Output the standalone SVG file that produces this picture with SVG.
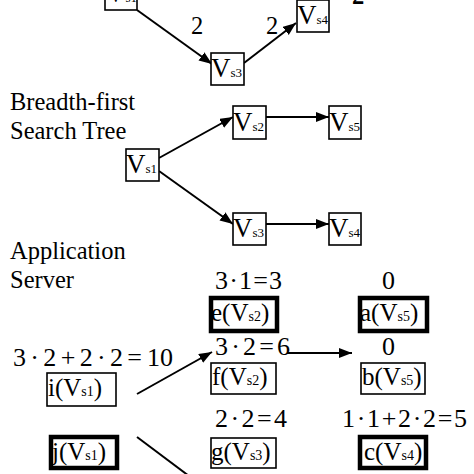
<svg xmlns="http://www.w3.org/2000/svg" width="474" height="474" viewBox="0 0 474 474">
<style>
text{font-family:"Liberation Serif","Times New Roman",serif;fill:#000}
.lbl{font-size:24.5px}
.eq{font-size:26px}
.v{font-size:27px}
.vs{font-size:13px}
.bl{font-size:25px}
.bs{font-size:14px}
.box{fill:#fff;stroke:#000;stroke-width:1.6}
.thick{fill:#fff;stroke:#000;stroke-width:4.5}
.edge{stroke:#000;stroke-width:2;fill:none}
</style>
<defs>
<marker id="ah" markerUnits="userSpaceOnUse" markerWidth="14" markerHeight="11" refX="13" refY="5" orient="auto">
<path d="M0,0 L13,5 L0,10 z" fill="#000"/>
</marker>
</defs>

<g id="connectors">
<line class="edge" x1="137" y1="10" x2="212" y2="64" marker-end="url(#ah)"/>
<line class="edge" x1="244" y1="63" x2="296" y2="23" marker-end="url(#ah)"/>
<line class="edge" x1="159" y1="158" x2="233" y2="117" marker-end="url(#ah)"/>
<line class="edge" x1="159" y1="171" x2="233" y2="224" marker-end="url(#ah)"/>
<line class="edge" x1="266" y1="117" x2="329" y2="117" marker-end="url(#ah)"/>
<line class="edge" x1="266" y1="224" x2="329" y2="224" marker-end="url(#ah)"/>
<line class="edge" x1="287" y1="353" x2="352" y2="353" marker-end="url(#ah)"/>
<line class="edge" x1="137" y1="394" x2="212" y2="352" marker-end="url(#ah)"/>
<line class="edge" x1="137" y1="437" x2="189" y2="476"/>
</g>

<g id="edge-labels">
<text class="lbl" x="191" y="34">2</text>
<text class="lbl" x="266" y="34">2</text>
<text class="lbl" x="352" y="4" font-weight="bold">2</text>
</g>

<g id="titles">
<text class="lbl" x="10" y="110">Breadth-first</text>
<text class="lbl" x="10" y="139">Search Tree</text>
<text class="lbl" x="10" y="259">Application</text>
<text class="lbl" x="10" y="288">Server</text>
</g>

<!-- top graph -->
<g id="top-vs1"><rect class="box" x="105" y="-22" width="32" height="32"/><text class="v" x="106" y="2">V<tspan class="vs">s1</tspan></text></g>
<g id="top-vs3"><rect class="box" x="211" y="53" width="33" height="32"/><text class="v" x="211" y="77">V<tspan class="vs">s3</tspan></text></g>
<g id="top-vs4"><rect class="box" x="297" y="0" width="32" height="32"/><text class="v" x="297" y="24">V<tspan class="vs">s4</tspan></text></g>

<!-- tree -->
<g id="tree-vs1"><rect class="box" x="126" y="149" width="33" height="32"/><text class="v" x="126" y="173">V<tspan class="vs">s1</tspan></text></g>
<g id="tree-vs2"><rect class="box" x="233" y="106" width="33" height="33"/><text class="v" x="233" y="131">V<tspan class="vs">s2</tspan></text></g>
<g id="tree-vs5"><rect class="box" x="329" y="106" width="32" height="33"/><text class="v" x="329" y="131">V<tspan class="vs">s5</tspan></text></g>
<g id="tree-vs3"><rect class="box" x="233" y="213" width="33" height="32"/><text class="v" x="233" y="237">V<tspan class="vs">s3</tspan></text></g>
<g id="tree-vs4"><rect class="box" x="329" y="213" width="32" height="32"/><text class="v" x="329" y="237">V<tspan class="vs">s4</tspan></text></g>

<!-- application server -->
<g id="weights">
<text class="eq" x="215" y="289" textLength="67" lengthAdjust="spacing">3·1=3</text>
<text class="eq" x="382" y="289">0</text>
<text class="eq" x="215" y="355" textLength="75" lengthAdjust="spacing">3·2=6</text>
<text class="eq" x="382" y="355">0</text>
<text class="eq" y="366"><tspan x="13" textLength="129" lengthAdjust="spacing">3·2+2·2=</tspan><tspan x="147">10</tspan></text>
<text class="eq" x="215" y="427" textLength="72" lengthAdjust="spacing">2·2=4</text>
<text class="eq" x="342" y="427" textLength="125" lengthAdjust="spacing">1·1+2·2=5</text>
</g>
<g id="e-vs2"><rect class="thick" x="211" y="298" width="66" height="33"/><text class="bl" x="211" y="321">e(V<tspan class="bs">s2</tspan>)</text></g>
<g id="a-vs5"><rect class="thick" x="360" y="298" width="67" height="33"/><text class="bl" x="360" y="321">a(V<tspan class="bs">s5</tspan>)</text></g>
<g id="f-vs2"><rect class="box" x="211" y="363" width="65" height="31"/><text class="bl" x="212" y="385">f(V<tspan class="bs">s2</tspan>)</text></g>
<g id="b-vs5"><rect class="box" x="361" y="363" width="64" height="31"/><text class="bl" x="362" y="385">b(V<tspan class="bs">s5</tspan>)</text></g>
<g id="i-vs1"><rect class="box" x="47" y="373" width="69" height="33"/><text class="bl" x="48" y="396">i(V<tspan class="bs">s1</tspan>)</text></g>
<g id="j-vs1"><rect class="thick" x="51" y="437" width="66" height="31"/><text class="bl" x="52" y="460">j(V<tspan class="bs">s1</tspan>)</text></g>
<g id="g-vs3"><rect class="box" x="211" y="438" width="65" height="30"/><text class="bl" x="211" y="460">g(V<tspan class="bs">s3</tspan>)</text></g>
<g id="c-vs4"><rect class="thick" x="360" y="437" width="66" height="31"/><text class="bl" x="364" y="460">c(V<tspan class="bs">s4</tspan>)</text></g>
</svg>
